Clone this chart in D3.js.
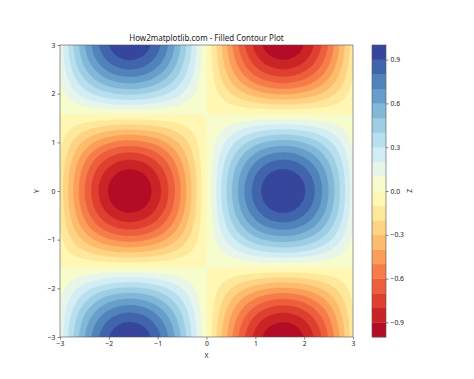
<!DOCTYPE html>
<html>
<head>
<meta charset="utf-8">
<script src="https://cdn.jsdelivr.net/npm/d3@7"></script>
<style>
  html, body { margin: 0; padding: 0; background: #fff; }
  svg text { font-family: "Noto Sans", "Open Sans", sans-serif; fill: #222; }
</style>
</head>
<body>
<div id="chart"></div>
<script>
// Filled contour: Z sampled on a 0.1 grid over [-3, 3] x [-3, 3]
// The field is separable, so it is kept as one profile along X and one along Y.
const gridX = d3.range(-30, 31).map(i => i / 10);
const gridY = d3.range(-30, 31).map(i => i / 10);

const xProfile = [
  -0.141, -0.239, -0.335, -0.427, -0.516, -0.599, -0.676, -0.746, -0.809, -0.863,
  -0.909, -0.946, -0.974, -0.992, -1.000, -0.998, -0.985, -0.964, -0.932, -0.891,
  -0.841, -0.783, -0.717, -0.644, -0.565, -0.479, -0.389, -0.296, -0.199, -0.100,
  0.000,
  0.100, 0.199, 0.296, 0.389, 0.479, 0.565, 0.644, 0.717, 0.783, 0.841,
  0.891, 0.932, 0.964, 0.985, 0.998, 1.000, 0.992, 0.974, 0.946, 0.909,
  0.863, 0.809, 0.746, 0.676, 0.599, 0.516, 0.427, 0.335, 0.239, 0.141
];

const yProfile = [
  -0.990, -0.971, -0.942, -0.904, -0.857, -0.801, -0.737, -0.666, -0.589, -0.505,
  -0.416, -0.323, -0.227, -0.129, -0.029, 0.071, 0.170, 0.268, 0.362, 0.454,
  0.540, 0.622, 0.697, 0.765, 0.825, 0.878, 0.921, 0.955, 0.980, 0.995,
  1.000,
  0.995, 0.980, 0.955, 0.921, 0.878, 0.825, 0.765, 0.697, 0.622, 0.540,
  0.454, 0.362, 0.268, 0.170, 0.071, -0.029, -0.129, -0.227, -0.323, -0.416,
  -0.505, -0.589, -0.666, -0.737, -0.801, -0.857, -0.904, -0.942, -0.971, -0.990
];

const levels = d3.range(-10, 11).map(i => i / 10);      // 20 bands, -1 .. 1
const axisTicks = [-3, -2, -1, 0, 1, 2, 3];
const colorbarTicks = [-0.9, -0.6, -0.3, 0.0, 0.3, 0.6, 0.9];

const titleText = "How2matplotlib.com - Filled Contour Plot";
const xLabel = "X";
const yLabel = "Y";
const zLabel = "Z";

// RdYlBu, linear between the ColorBrewer stops (as matplotlib does)
const rdylbu = ["#a50026", "#d73027", "#f46d43", "#fdae61", "#fee090", "#ffffbf",
                "#e0f3f8", "#abd9e9", "#74add1", "#4575b4", "#313695"];

function drawChart() {
  const width = 474, height = 379;
  const plot = { left: 60, right: 353, top: 45, bottom: 337 };
  const bar = { left: 372, right: 386 };

  const svg = d3.select("#chart").append("svg")
    .attr("width", width).attr("height", height);

  const x = d3.scaleLinear().domain([-3, 3]).range([plot.left, plot.right]);
  const y = d3.scaleLinear().domain([-3, 3]).range([plot.bottom, plot.top]);

  const cmap = d3.scaleLinear()
    .domain(d3.range(rdylbu.length).map(i => i / (rdylbu.length - 1)))
    .range(rdylbu)
    .interpolate(d3.interpolateRgb);
  const norm = d3.scaleLinear().domain([levels[0], levels[levels.length - 1]]).range([0, 1]);
  const bandColor = i => cmap(norm((levels[i] + levels[i + 1]) / 2));

  // build the value grid, row 0 = first Y sample
  const nx = gridX.length, ny = gridY.length;
  const values = new Array(nx * ny);
  for (let j = 0; j < ny; j++) {
    for (let i = 0; i < nx; i++) values[j * nx + i] = xProfile[i] * yProfile[j];
  }

  const contours = d3.contours().size([nx, ny]).thresholds(levels.slice(0, -1))(values);

  // d3.contours puts sample k at grid coordinate k + 0.5
  const gx = d3.scaleLinear().domain([0.5, nx - 0.5]).range([x(gridX[0]), x(gridX[nx - 1])]);
  const gy = d3.scaleLinear().domain([0.5, ny - 0.5]).range([y(gridY[0]), y(gridY[ny - 1])]);
  const proj = d3.geoTransform({
    point: function (px, py) { this.stream.point(gx(px), gy(py)); }
  });
  const path = d3.geoPath(proj);

  svg.append("clipPath").attr("id", "plot-clip")
    .append("rect")
    .attr("x", plot.left).attr("y", plot.top)
    .attr("width", plot.right - plot.left).attr("height", plot.bottom - plot.top);

  svg.append("g")
    .attr("clip-path", "url(#plot-clip)")
    .selectAll("path")
    .data(contours)
    .enter()
    .append("path")
    .attr("d", path)
    .attr("fill", (d, i) => bandColor(i))
    .attr("stroke", (d, i) => bandColor(i))
    .attr("stroke-width", 0.3);

  // axes
  const xAxis = d3.axisBottom(x).tickValues(axisTicks).tickSize(2.5).tickPadding(2)
    .tickFormat(d3.format("d"));
  const yAxis = d3.axisLeft(y).tickValues(axisTicks).tickSize(2.5).tickPadding(2)
    .tickFormat(d3.format("d"));

  const gxAxis = svg.append("g").attr("transform", `translate(0,${plot.bottom})`).call(xAxis);
  const gyAxis = svg.append("g").attr("transform", `translate(${plot.left},0)`).call(yAxis);
  [gxAxis, gyAxis].forEach(g => {
    g.select(".domain").remove();
    g.selectAll(".tick line").attr("stroke", "#333").attr("stroke-width", 0.6);
    g.selectAll(".tick text").attr("font-size", 6.8).attr("fill", "#222");
  });

  svg.append("rect")
    .attr("x", plot.left).attr("y", plot.top)
    .attr("width", plot.right - plot.left).attr("height", plot.bottom - plot.top)
    .attr("fill", "none").attr("stroke", "#555").attr("stroke-width", 0.6);

  svg.append("text")
    .attr("x", (plot.left + plot.right) / 2).attr("y", 41)
    .attr("text-anchor", "middle").attr("font-size", 8)
    .text(titleText);

  svg.append("text")
    .attr("x", (plot.left + plot.right) / 2).attr("y", 358)
    .attr("text-anchor", "middle").attr("font-size", 6.8)
    .text(xLabel);

  svg.append("text")
    .attr("transform", `translate(39,${(plot.top + plot.bottom) / 2}) rotate(-90)`)
    .attr("text-anchor", "middle").attr("font-size", 6.8)
    .text(yLabel);

  // colorbar
  const cy = d3.scaleLinear().domain([levels[0], levels[levels.length - 1]])
    .range([plot.bottom, plot.top]);
  const bands = d3.range(levels.length - 1);
  svg.append("g")
    .selectAll("rect")
    .data(bands)
    .enter()
    .append("rect")
    .attr("x", bar.left)
    .attr("y", i => cy(levels[i + 1]))
    .attr("width", bar.right - bar.left)
    .attr("height", i => cy(levels[i]) - cy(levels[i + 1]) + 0.3)
    .attr("fill", i => bandColor(i));

  svg.append("rect")
    .attr("x", bar.left).attr("y", plot.top)
    .attr("width", bar.right - bar.left).attr("height", plot.bottom - plot.top)
    .attr("fill", "none").attr("stroke", "#555").attr("stroke-width", 0.6);

  const cAxis = d3.axisRight(cy).tickValues(colorbarTicks).tickSize(2.5).tickPadding(2)
    .tickFormat(d3.format(".1f"));
  const gc = svg.append("g").attr("transform", `translate(${bar.right},0)`).call(cAxis);
  gc.select(".domain").remove();
  gc.selectAll(".tick line").attr("stroke", "#333").attr("stroke-width", 0.6);
  gc.selectAll(".tick text").attr("font-size", 6.8).attr("fill", "#222");

  svg.append("text")
    .attr("transform", `translate(407,${cy(0)}) rotate(90)`)
    .attr("text-anchor", "middle").attr("font-size", 6.8)
    .text(zLabel);
}

if (document.readyState === "loading") {
  document.addEventListener("DOMContentLoaded", drawChart);
} else {
  drawChart();
}
</script>
</body>
</html>
